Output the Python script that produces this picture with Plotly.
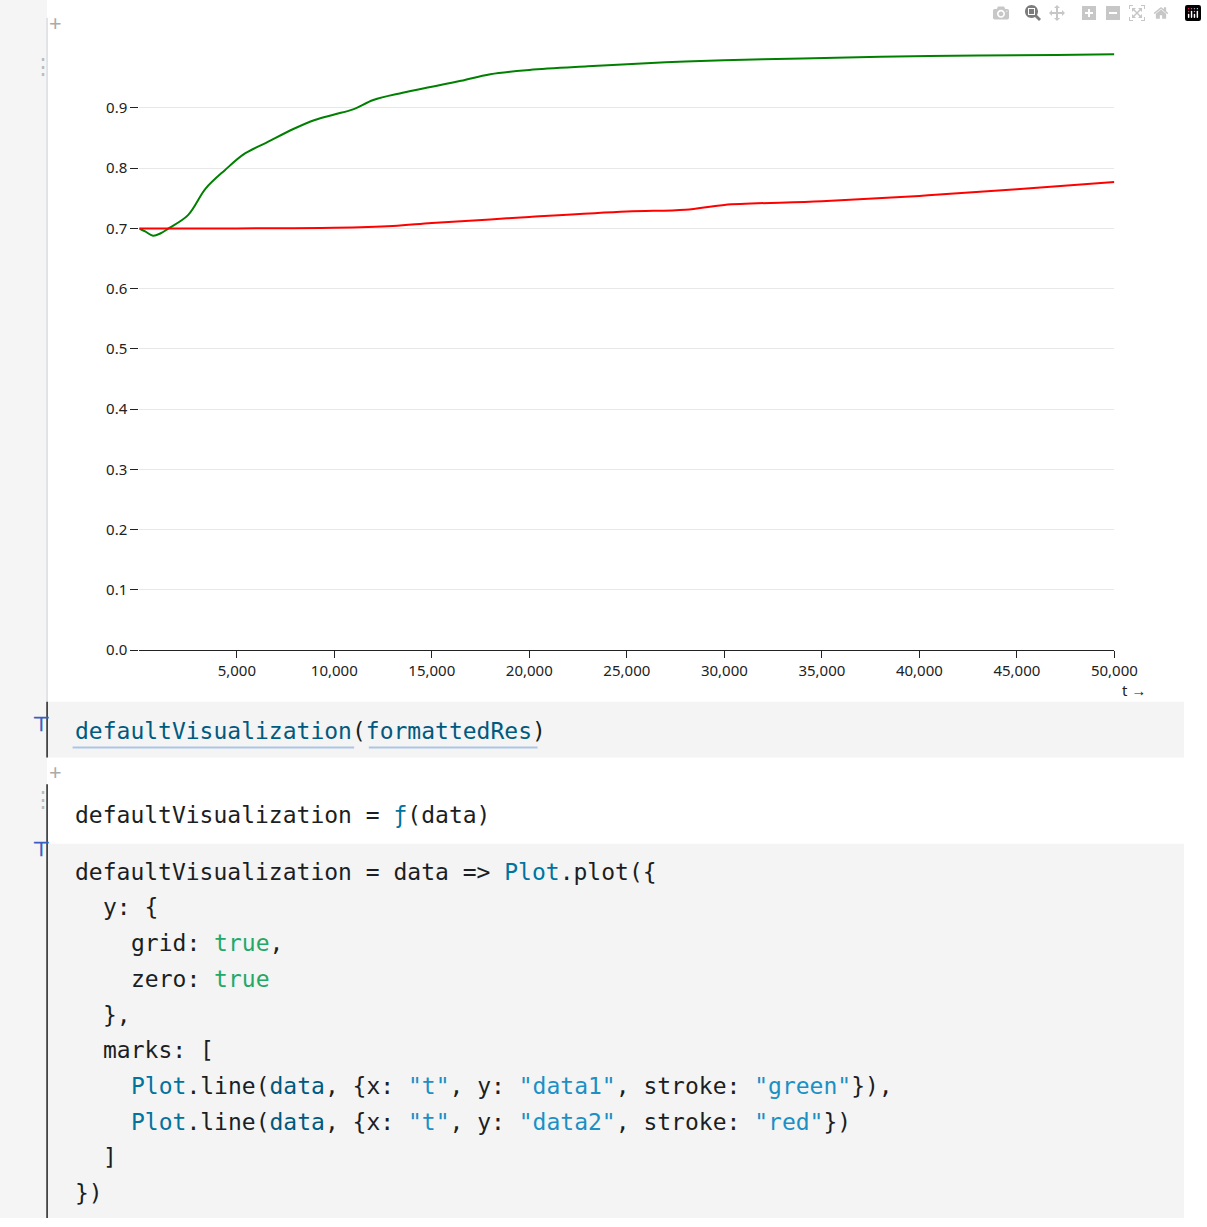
import plotly.graph_objects as go

W, H = 1207, 1227

t = [0, 300, 700, 1100, 1500, 2500, 3400, 4400, 5400, 6500, 7900, 9000, 10000, 11000, 12000,
     13500, 15000, 16500, 18000, 20000, 23000, 26000, 28000, 31000, 34000, 38000, 43000, 47000, 50000]
data1 = [0.700, 0.695, 0.688, 0.692, 0.700, 0.722, 0.766, 0.797, 0.824, 0.842, 0.865, 0.880, 0.889,
         0.898, 0.913, 0.925, 0.935, 0.945, 0.956, 0.963, 0.969, 0.974, 0.977, 0.980, 0.982, 0.985,
         0.987, 0.988, 0.989]
t2 = [0, 5000, 10000, 13000, 15000, 18000, 20000, 25000, 28000, 30000, 35000, 40000, 45000, 50000]
data2 = [0.700, 0.700, 0.701, 0.704, 0.709, 0.715, 0.719, 0.728, 0.731, 0.739, 0.745, 0.754, 0.765, 0.777]

yticks = [0.0, 0.1, 0.2, 0.3, 0.4, 0.5, 0.6, 0.7, 0.8, 0.9]
xticks = [5000, 10000, 15000, 20000, 25000, 30000, 35000, 40000, 45000, 50000]


def px(x):
    return x / W


def py(y):
    return 1 - y / H


fig = go.Figure()
fig.add_trace(go.Scatter(x=t, y=data1, mode="lines", line=dict(color="green", width=2), line_shape="spline"))
fig.add_trace(go.Scatter(x=t2, y=data2, mode="lines", line=dict(color="red", width=2), line_shape="spline"))

shapes = [
    dict(type="rect", xref="paper", yref="paper", x0=0, x1=px(48), y0=0, y1=1, fillcolor="#f5f5f5", line_width=0, layer="below"),
    dict(type="rect", xref="paper", yref="paper", x0=px(48), x1=1, y0=py(763), y1=py(707), fillcolor="#f4f4f4", line_width=0, layer="below"),
    dict(type="rect", xref="paper", yref="paper", x0=px(48), x1=1, y0=0, y1=py(850), fillcolor="#f4f4f4", line_width=0, layer="below"),
    dict(type="line", xref="paper", yref="paper", x0=px(48), x1=px(48), y0=py(707), y1=py(18), line=dict(color="#c8cdd5", width=1)),
    dict(type="line", xref="paper", yref="paper", x0=px(48), x1=px(48), y0=py(763), y1=py(707), line=dict(color="#222", width=1.5)),
    dict(type="line", xref="paper", yref="paper", x0=px(48), x1=px(48), y0=0, y1=py(790), line=dict(color="#222", width=1.5)),
    dict(type="line", xref="paper", yref="paper", x0=px(74), x1=px(361), y0=py(753), y1=py(753), line=dict(color="#a9c6e4", width=2)),
    dict(type="line", xref="paper", yref="paper", x0=px(376), x1=px(548), y0=py(753), y1=py(753), line=dict(color="#a9c6e4", width=2)),
]

BLUE = "#005a80"
PLOT = "#00739e"
STR = "#1c8fc4"
TRUE = "#23a86b"
code = [
    (736, 0, f"<span style='color:{BLUE}'>defaultVisualization</span>(<span style='color:{BLUE}'>formattedRes</span>)"),
    (821, 0, f"defaultVisualization = <span style='color:{PLOT}'>ƒ</span>(data)"),
    (878, 0, f"defaultVisualization = data => <span style='color:{PLOT}'>Plot</span>.plot({{"),
    (914, 2, "y: {"),
    (950, 4, f"grid: <span style='color:{TRUE}'>true</span>,"),
    (986, 4, f"zero: <span style='color:{TRUE}'>true</span>"),
    (1022, 2, "},"),
    (1058, 2, "marks: ["),
    (1094, 4, f"<span style='color:{PLOT}'>Plot</span>.line(<span style='color:{BLUE}'>data</span>, {{x: <span style='color:{STR}'>\"t\"</span>, y: <span style='color:{STR}'>\"data1\"</span>, stroke: <span style='color:{STR}'>\"green\"</span>}}),"),
    (1130, 4, f"<span style='color:{PLOT}'>Plot</span>.line(<span style='color:{BLUE}'>data</span>, {{x: <span style='color:{STR}'>\"t\"</span>, y: <span style='color:{STR}'>\"data2\"</span>, stroke: <span style='color:{STR}'>\"red\"</span>}})"),
    (1166, 2, "]"),
    (1202, 0, "})"),
]
ann = []
for y, ind, txt in code:
    ann.append(dict(xref="paper", yref="paper", x=px(74 + ind * 14.3), y=py(y), xanchor="left", yanchor="middle",
                    text=txt, showarrow=False, font=dict(family="DejaVu Sans Mono", size=23, color="#1b1e23")))
ann.append(dict(xref="paper", yref="paper", x=px(1170), y=py(695), xanchor="right", yanchor="middle",
                text="t →", showarrow=False, font=dict(family="Noto Sans", size=15, color="#222")))
for y in (48, 821):
    ann.append(dict(xref="paper", yref="paper", x=px(31), y=py(y), text="⋮", showarrow=False,
                    font=dict(size=22, color="#bbb")))
for y in (730, 872):
    ann.append(dict(xref="paper", yref="paper", x=px(31), y=py(y), text="<b>⊥</b>", showarrow=False,
                    textangle=180, font=dict(size=20, color="#3b5fc0")))
for y in (5, 777):
    ann.append(dict(xref="paper", yref="paper", x=px(48), y=py(y), text="+", showarrow=False,
                    font=dict(size=22, color="#aaa")))

fig.update_layout(
    width=W, height=H, margin=dict(l=0, r=0, t=0, b=0),
    paper_bgcolor="white", plot_bgcolor="white", showlegend=False,
    font=dict(family="Noto Sans", size=15, color="#222"),
    shapes=shapes, annotations=ann,
    xaxis=dict(domain=[px(142), px(1136)], range=[0, 50000], tickvals=xticks,
               ticktext=[f"{v:,}" for v in xticks], ticks="outside", ticklen=7, tickcolor="#222",
               showgrid=False, zeroline=False, showline=False, anchor="y"),
    yaxis=dict(domain=[py(655), py(48)], range=[0, 1.0], tickvals=yticks,
               ticktext=[f"{v:.1f}" for v in yticks], ticks="outside", ticklen=8, tickcolor="#222",
               showgrid=True, gridcolor="#e8e8e8", zeroline=True, zerolinecolor="#222", zerolinewidth=1,
               showline=False),
)
fig.write_html("out.html", post_script="document.body.style.margin='0';document.body.style.overflow='hidden';")
